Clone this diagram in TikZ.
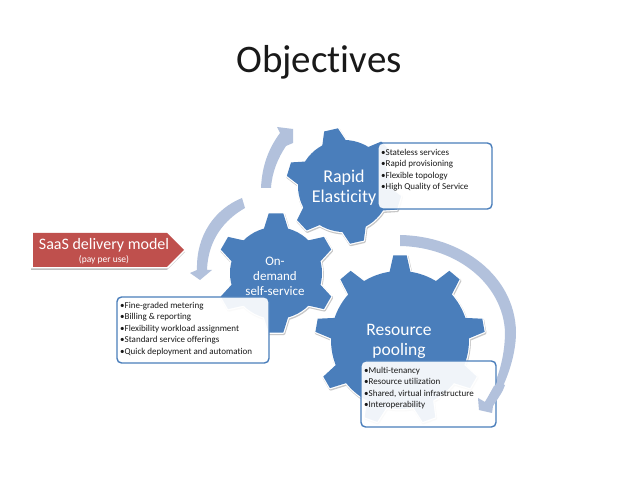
\documentclass[tikz,border=0pt]{standalone}
\usepackage{fontspec}
\setmainfont[Ligatures=NoCommon]{Carlito}
\definecolor{gearblue}{HTML}{4A7EBB}
\definecolor{bandblue}{HTML}{B2C1DC}
\definecolor{boxline}{HTML}{4A7EBB}
\definecolor{saasred}{HTML}{BF504D}
\newcommand{\geartrace}[8]{%
  \begin{scope}[shift={(#1,#2)}]
    \foreach \a in {#7}{%
      \path[#8] ({\a-#5}:#3-1) -- ({\a-#6}:#4) -- ({\a+#6}:#4) -- ({\a+#5}:#3-1) -- cycle;
    }
    \path[#8] (0,0) circle[radius=#3];
  \end{scope}%
}
\newcommand{\geardraw}[7]{%
  \begin{scope}[shift={(0.6,1.2)}]\geartrace{#1}{#2}{#3}{#4}{#5}{#6}{#7}{gearshade}\end{scope}
  \geartrace{#1}{#2}{#3}{#4}{#5}{#6}{#7}{gearhalo}
  \geartrace{#1}{#2}{#3}{#4}{#5}{#6}{#7}{gearfill}
}
\tikzset{
  gearshade/.style={draw=black!22,line width=2.6pt,line join=round,fill=black!22},
  gearhalo/.style={draw=white,line width=2.4pt,line join=round,fill=white},
  gearfill/.style={fill=gearblue},
  band/.style={fill=bandblue},
  infobox/.style={draw=boxline,line width=1.4pt,fill=white,fill opacity=0.92,rounded corners=4.5pt},
  gearlabel/.style={text=white,align=center,inner sep=0pt},
  infotext/.style={anchor=north west,align=left,inner sep=0pt,font=\fontsize{9}{11.4}\selectfont,text=black!90}
}
\begin{document}
\begin{tikzpicture}[x=1pt,y=-1pt]
\useasboundingbox (0,0) rectangle (638,478);
\fill[white] (0,0) rectangle (638,478);

\node[inner sep=0pt,font=\fontsize{39}{42}\selectfont,text=black!90] (title) at (319,62) {Objectives};

% gears
\geardraw{344}{186}{46}{58}{16}{7}{17,77,137,197,257,317}
\geardraw{276}{273}{46}{60}{16}{7}{-90,-30,30,90,150,210}
\geardraw{400}{340}{69}{85}{9}{4.5}{-90,-50,-10,30,70,110,150,190,230}

% bands
\fill[band] (400,235) .. controls (462,236) and (515,276) .. (516,332)
  .. controls (516,358) and (505,385) .. (493,406)
  -- (492,413) -- (479,410) -- (478,398) -- (485,402)
  .. controls (497,384) and (505,358) .. (505,332)
  .. controls (503,285) and (458,247) .. (400,246) -- cycle;
\fill[band] (242,198) .. controls (215,209) and (196,235) .. (197,270)
  -- (190,273) -- (200,280) -- (212,270) -- (207,270)
  .. controls (208,240) and (224,220) .. (245,208) -- cycle;
\fill[band] (261,188) .. controls (262,165) and (269,148) .. (280,133)
  -- (277,127) -- (293,129) -- (293,143) -- (286,146)
  .. controls (278,158) and (272,172) .. (271,188) -- cycle;

% gear labels
\node[gearlabel,font=\fontsize{18}{20}\selectfont] (rapid) at (344,188) {Rapid\\Elasticity};
\node[gearlabel,font=\fontsize{13}{15}\selectfont] (ondemand) at (275,276) {On-\\demand\\self-service};
\node[gearlabel,font=\fontsize{17.5}{20}\selectfont] (resource) at (399,341) {Resource\\pooling};

% info boxes
\path[infobox] (378,143) rectangle (492,209);
\path[infobox] (117,297) rectangle (269,363);
\path[infobox] (361,361) rectangle (496,427);
\node[infotext] (rapidtext) at (381,149) {•Stateless services\\•Rapid provisioning\\•Flexible topology\\•High Quality of Service};
\node[infotext] (demandtext) at (120,302) {•Fine-graded metering\\•Billing \& reporting\\•Flexibility workload assignment\\•Standard service offerings\\•Quick deployment and automation};
\node[infotext] (resourcetext) at (364,367) {•Multi-tenancy\\•Resource utilization\\•Shared, virtual infrastructure\\•Interoperability};

% arrow head over the box
\fill[band] (497,384) -- (493,406) -- (492,413) -- (479,410) -- (478,398) -- (485,402) -- (494,386) -- cycle;
\fill[band] (505,385) .. controls (503,392) and (498,398) .. (493,406) -- (485,402) .. controls (489,396) and (494,390) .. (497,382) -- cycle;

% SaaS
\fill[black!25] (31,235) -- (167,235) -- (185,252) -- (167,270) -- (31,270) -- cycle;
\fill[white] (31,232) -- (168,232) -- (186,250) -- (168,268.5) -- (31,268.5) -- cycle;
\fill[saasred] (33,233) -- (167,233) -- (184,250) -- (167,267) -- (33,267) -- cycle;
\node[inner sep=0pt,text=white,font=\fontsize{16}{18}\selectfont] (saas) at (104,245) {SaaS delivery model};
\node[inner sep=0pt,text=white,font=\fontsize{9.5}{11}\selectfont] (payper) at (104,260) {(pay per use)};
\end{tikzpicture}
\end{document}
